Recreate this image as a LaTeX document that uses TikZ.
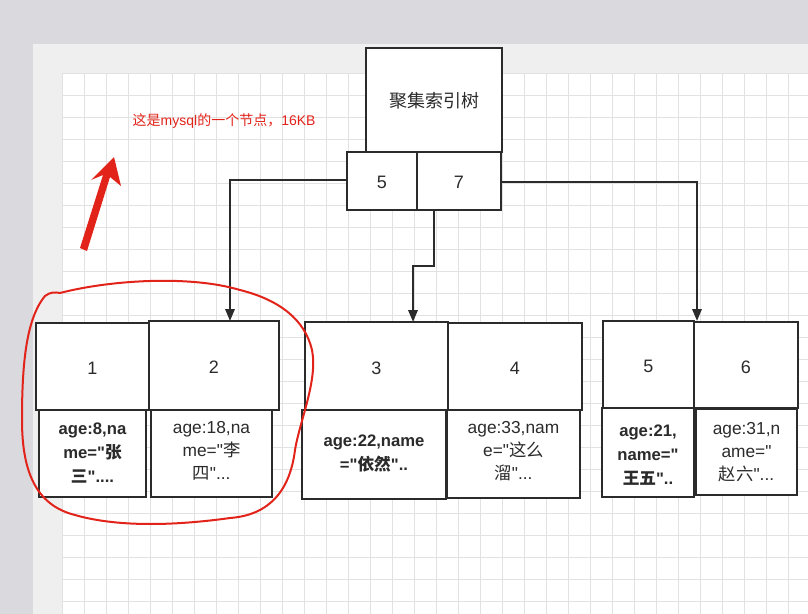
\documentclass[tikz,border=0pt]{standalone}
\usepackage{fontspec}
\setmainfont{Liberation Sans}[Ligatures=TeXOff]
\newfontfamily\cjk{Noto Sans CJK SC}
\newcommand\dqt{"}
\usetikzlibrary{arrows.meta}
\definecolor{bgout}{HTML}{D9D9DE}
\definecolor{panel}{HTML}{EFEFEF}
\definecolor{gridc}{HTML}{E2E2E2}
\definecolor{redc}{HTML}{E2231A}
\definecolor{ink}{HTML}{2B2B2B}
\tikzset{
  bx/.style={draw=ink,line width=2.2pt,fill=white},
  conn/.style={draw=ink,line width=1.7pt,-{Triangle[length=9pt,width=7pt]}},
  lbl/.style={font=\fontsize{13.5}{16}\selectfont,text=ink,align=center},
  dtb/.style={lbl,font=\bfseries\fontsize{12.5}{18}\selectfont},
  dtn/.style={lbl,font=\fontsize{13}{17}\selectfont},
}
\begin{document}
\begin{tikzpicture}[x=0.75pt,y=-0.75pt]
\useasboundingbox (0,0) rectangle (808,614);
\fill[bgout] (0,0) rectangle (808,614);
\fill[panel] (33,44) rectangle (808,614);
\fill[white] (62,73) rectangle (808,614);
\foreach \i in {0,...,34} {\draw[gridc,line width=0.5pt] (62+22*\i,73) -- (62+22*\i,614);}
\foreach \j in {0,...,24} {\draw[gridc,line width=0.5pt] (62,73+22*\j) -- (808,73+22*\j);}
% root
\draw[bx] (366,48) rectangle (502,152);
\node[lbl] (root) at (434,101) {\cjk 聚集索引树};
\draw[bx] (347,152) rectangle (417,210);
\node[lbl] (k5) at (382,182) {5};
\draw[bx] (417,152) rectangle (501,210);
\node[lbl] (k7) at (459,182) {7};
\coordinate (k5l) at (347,180);
\coordinate (k7b) at (434,210);
\coordinate (k7r) at (501,182);
% leaves
\foreach \a/\b/\c/\d/\t in {36/323/149/410/1,149/321/279/410/2,305/322/448/410/3,448/323/582/410/4,603/321/694/408/5,694/322/798/408/6}
  {\draw[bx] (\a,\b) rectangle (\c,\d); \node[lbl] at ({(\a+\c)/2},{(\b+\d)/2+2}) {\t};}
\draw[bx] (39,410) rectangle (146,497);
\node[dtb] (d1) at (92.5,453) {age:8,na\\me=\dqt{\cjk 张}\\{\cjk 三}\dqt....};
\draw[bx] (151,410) rectangle (272,497);
\node[dtn] (d2) at (211.5,451) {age:18,na\\me=\dqt{\cjk 李}\\{\cjk 四}\dqt...};
\draw[bx] (302,410) rectangle (446,499);
\node[dtb] (d3) at (374,454) {age:22,name\\=\dqt{\cjk 依然}\dqt..};
\draw[bx] (447,410) rectangle (580,498);
\node[dtn] (d4) at (513.5,451) {age:33,nam\\e=\dqt{\cjk 这么}\\{\cjk 溜}\dqt...};
\draw[bx] (602,408) rectangle (694,497);
\node[dtb] (d5) at (648,455) {age:21,\\name=\dqt\\{\cjk 王五}\dqt..};
\draw[bx] (696,409) rectangle (797,495);
\node[dtn] (d6) at (746.5,452) {age:31,n\\ame=\dqt\\{\cjk 赵六}\dqt...};
\coordinate (t1) at (230,321);
\coordinate (t2) at (413,322);
\coordinate (t3) at (697,321);
% connectors
\draw[conn] (k5l) -| (t1);
\draw[conn] (k7b) -- (434,266) -| (t2);
\draw[conn] (k7r) -| (t3);
% annotations
\node[text=redc,font=\fontsize{10.5}{12}\selectfont,anchor=west] (note) at (128,121) {{\cjk 这是}mysql{\cjk 的一个节点，}16KB};
\fill[redc] (80,248) -- (103,175) -- (91,180) -- (114,157) -- (121,186) -- (110,177) -- (87,251) -- cycle;
\draw[redc,line width=1.5pt,line join=round]
 (60,293) .. controls (110,280) and (190,275) .. (240,290)
 .. controls (280,300) and (305,320) .. (312,350)
 .. controls (318,380) and (300,420) .. (295,450)
 .. controls (290,490) and (270,515) .. (230,518)
 .. controls (180,525) and (120,528) .. (75,515)
 .. controls (35,505) and (22,470) .. (22,420)
 .. controls (22,370) and (25,320) .. (45,296)
 .. controls (50,292) and (55,292) .. (60,293);
\end{tikzpicture}
\end{document}
